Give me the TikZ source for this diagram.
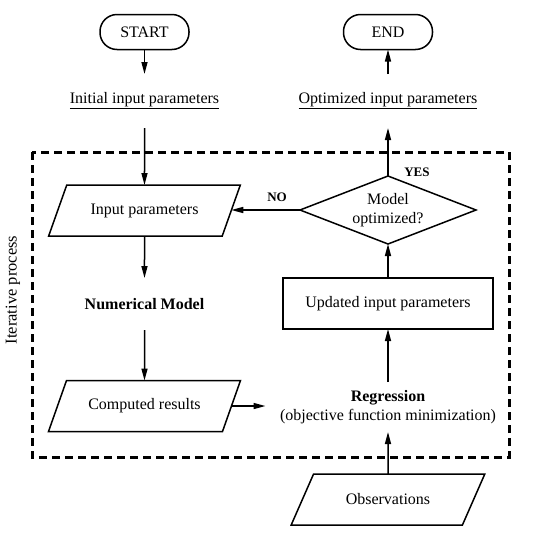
\documentclass[tikz,border=0pt]{standalone}
\usepackage{fontspec}
\setmainfont{Liberation Serif}
\usepackage{tikz}
\usetikzlibrary{arrows.meta, positioning, shapes.geometric, calc}

\begin{document}
\begin{tikzpicture}[
    x=1pt, y=-1pt,
    font=\fontsize{16}{19.5}\selectfont,
    line width=1.5pt,
    >={Triangle[length=12pt, width=6pt]},
    every node/.append style={outer sep=0pt},
    term/.style={draw, rectangle, rounded corners=17pt,
        minimum width=89pt, minimum height=35pt},
    txt/.style={align=center, minimum height=54pt, inner sep=0pt},
    io/.style={draw, trapezium, trapezium stretches=true,
        trapezium left angle=57, trapezium right angle=123,
        minimum width=192pt, minimum height=51pt},
    box/.style={draw, rectangle, minimum width=210pt, minimum height=51pt},
    dec/.style={draw, diamond, aspect=2.6, align=center, inner sep=0pt,
        minimum width=176pt, minimum height=68pt},
    lbl/.style={font=\fontsize{13}{15}\selectfont\bfseries},
    frame/.style={line width=3pt, dash pattern=on 8pt off 5pt}
]
    \useasboundingbox (0,0) rectangle (550,536);

    % left column
    \node[term] (Start) at (144.5,32) {START};
    \node[txt] (Init) [below=24.5pt of Start] {\underline{Initial input parameters}};
    \node[io] (In) [below=57pt of Init] {Input parameters};
    \node[txt, minimum height=52pt, font=\fontsize{16}{19.5}\selectfont\bfseries] (Num) [below=42pt of In] {Numerical Model};
    \node[io] (Comp) [below=50.5pt of Num] {Computed results};

    % right column
    \node[term] (End) at (388,32) {END};
    \node[txt] (Opt) [below=24.5pt of End] {\underline{Optimized input parameters}};
    \node[dec] (Dec) [below=48pt of Opt] {Model\\optimized?};
    \node[box] (Upd) [below=34pt of Dec] {Updated input parameters};
    \node[txt, minimum height=50pt, minimum width=245pt] (Reg) [below=53pt of Upd]
        {\textbf{Regression}\\(objective function minimization)};
    \node[io, trapezium left angle=52.6, trapezium right angle=127.4,
        minimum width=194pt] (Obs) [below=42pt of Reg] {Observations};

    % mid points of the slanted sides
    \coordinate (InR) at ($(In.top right corner)!0.5!(In.bottom right corner)$);
    \coordinate (CompR) at ($(Comp.top right corner)!0.5!(Comp.bottom right corner)$);

    % iterative loop
    \draw[frame] (32,152) rectangle (509,457);
    \node[rotate=90, font=\fontsize{16.5}{19.5}\selectfont] (Iter) at (13,290) {Iterative process};
    \node[lbl] (Yes) at ([xshift=29pt, yshift=4pt]Dec.north) {YES};
    \node[lbl] (No) at ([xshift=-23pt, yshift=13pt]Dec.west) {NO};

    \draw[->] (Start) -- (Init);
    \draw[->] (Init) -- (In);
    \draw[->] (In) -- (Num);
    \draw[->] (Num) -- (Comp);
    \draw[->] (CompR) -- (CompR -| Reg.west);
    \draw[->] (Obs) -- (Reg);
    \draw[->] (Reg) -- (Upd);
    \draw[->] (Upd) -- (Dec);
    \draw[->] (Dec.west) -- (Dec.west -| InR);
    \draw[->] (Dec) -- (Opt);
    \draw[->] (Opt) -- (End);
\end{tikzpicture}
\end{document}
